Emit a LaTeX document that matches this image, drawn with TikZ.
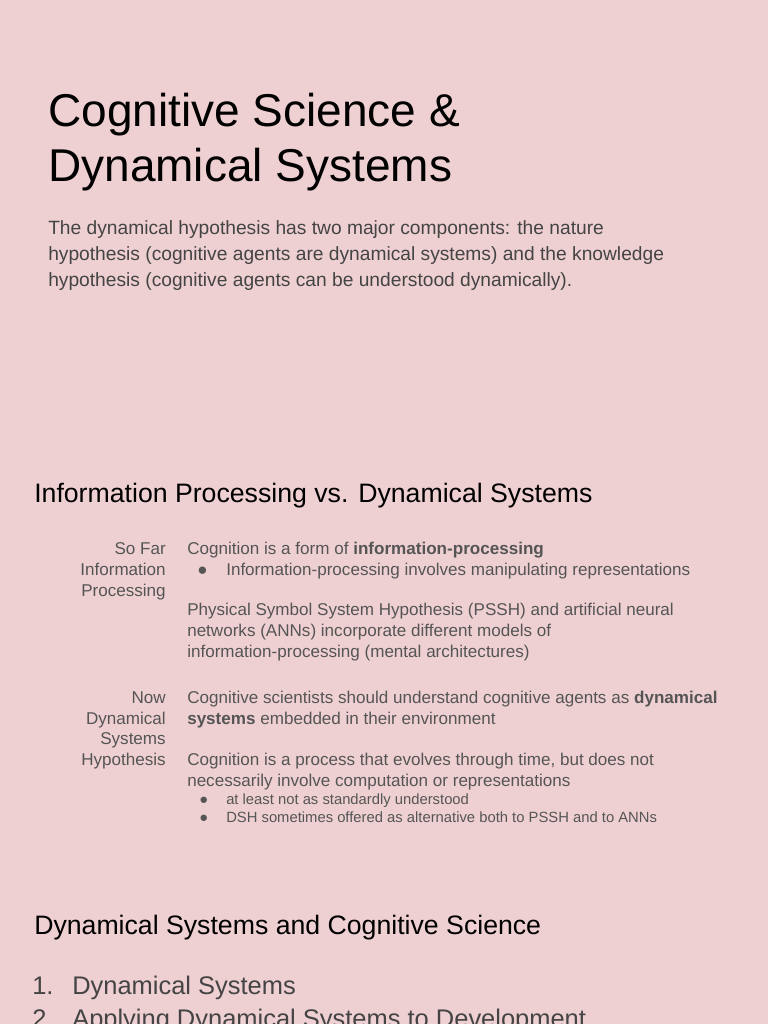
\documentclass[tikz,border=0pt]{standalone}
\usepackage{fontspec}
\setmainfont{Liberation Sans}
\definecolor{bg}{HTML}{EFD0D2}
\definecolor{body}{HTML}{444444}
\definecolor{tab}{HTML}{555555}
\begin{document}
\begin{tikzpicture}[x=0.75pt,y=-0.75pt,
  every node/.style={inner sep=0pt,anchor=base west},
  ttl/.style={font=\fontsize{34.5}{40}\selectfont,text=black},
  para/.style={font=\fontsize{14.4}{19.5}\selectfont,text=body},
  head/.style={font=\fontsize{20}{24}\selectfont,text=black},
  lab/.style={font=\fontsize{12.8}{15}\selectfont,text=tab,anchor=base east},
  txt/.style={font=\fontsize{12.8}{15}\selectfont,text=tab},
  sml/.style={font=\fontsize{11.1}{13}\selectfont,text=tab},
  lst/.style={font=\fontsize{19.1}{22}\selectfont,text=body}]
\fill[bg] (0,0) rectangle (768,1024);
\useasboundingbox (0,0) rectangle (768,1024);
\node[ttl] (t1) at (48,127) {Cognitive Science \&};
\node[ttl] (t2) at (48,181) {Dynamical Systems};
\node[para] (p1) at (48,234) {The dynamical hypothesis has two major components: the nature};
\node[para] (p2) at (48,260) {hypothesis (cognitive agents are dynamical systems) and the knowledge};
\node[para] (p3) at (48,286) {hypothesis (cognitive agents can be understood dynamically).};
\node[head] (h1) at (34,502) {Information Processing vs. Dynamical Systems};
\node[lab] (l1) at (166,554) {So Far};
\node[lab] (l2) at (166,575) {Information};
\node[lab] (l3) at (166,596) {Processing};
\node[txt] (r1) at (187,554) {Cognition is a form of \textbf{information-processing}};
\node[txt] (b1) at (197,575) {●};
\node[txt] (r2) at (226,575) {Information-processing involves manipulating representations};
\node[txt] (r3) at (187,615) {Physical Symbol System Hypothesis (PSSH) and artificial neural};
\node[txt] (r4) at (187,636) {networks (ANNs) incorporate different models of};
\node[txt] (r5) at (187,657) {information-processing (mental architectures)};
\node[lab] (n1) at (166,703) {Now};
\node[lab] (n2) at (166,724) {Dynamical};
\node[lab] (n3) at (166,744) {Systems};
\node[lab] (n4) at (166,765) {Hypothesis};
\node[txt] (s1) at (187,703) {Cognitive scientists should understand cognitive agents as \textbf{dynamical}};
\node[txt] (s2) at (187,724) {\textbf{systems} embedded in their environment};
\node[txt] (s3) at (187,765) {Cognition is a process that evolves through time, but does not};
\node[txt] (s4) at (187,786) {necessarily involve computation or representations};
\node[sml] (b2) at (199,804) {●};
\node[sml] (s5) at (226,804) {at least not as standardly understood};
\node[sml] (b3) at (199,822) {●};
\node[sml] (s6) at (226,822) {DSH sometimes offered as alternative both to PSSH and to ANNs};
\node[head] (h2) at (34,934) {Dynamical Systems and Cognitive Science};
\node[lst] (k1) at (32,994) {1.};
\node[lst] (i1) at (72,994) {Dynamical Systems};
\node[lst] (k2) at (32,1027) {2.};
\node[lst] (i2) at (72,1027) {Applying Dynamical Systems to Development};
\end{tikzpicture}
\end{document}
